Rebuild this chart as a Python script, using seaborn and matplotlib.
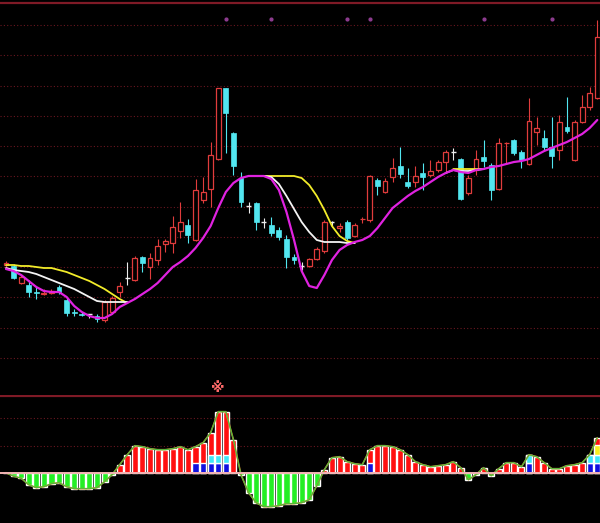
import numpy as np
import matplotlib
matplotlib.use('Agg')
import matplotlib.pyplot as plt
import seaborn as sns

nan = np.nan

# K线数据 (价格单位为估算值)
opens = [13.5, 13.4, 11.7, 11.5, 10.8, 10.6, 10.7, 11.3, 10.0, 8.8,
         8.6, 8.6, 8.4, 8.0, 8.8, 10.8, 12.2, 12.0, 14.3, 13.3,
         14.0, 15.6, 15.7, 16.9, 17.5, 16.0, 20.0, 21.1, 24.1, 31.2,
         26.7, 22.2, 19.4, 19.7, 17.8, 17.5, 17.0, 16.1, 14.3, 13.4,
         13.4, 14.1, 14.9, 17.8, 17.2, 17.8, 16.4, 18.1, 18.0, 22.0,
         20.8, 22.3, 23.4, 21.8, 21.8, 22.7, 22.5, 23.0, 23.8, 24.8,
         24.1, 20.7, 23.0, 24.3, 23.5, 21.1, 25.7, 26.0, 24.8, 23.6,
         26.8, 26.2, 25.3, 25.0, 27.3, 24.0, 27.8, 29.3, 30.2]
closes = [13.7, 12.2, 12.3, 10.8, 10.7, 10.7, 10.9, 10.8, 8.7, 8.7,
          8.5, 8.6, 8.1, 9.8, 10.2, 11.4, 12.2, 14.2, 13.7, 14.2,
          15.4, 15.9, 17.3, 17.8, 16.5, 21.0, 20.8, 24.5, 31.2, 28.7,
          23.4, 19.8, 19.4, 17.8, 17.8, 16.7, 16.3, 14.3, 14.0, 13.4,
          14.1, 15.1, 17.8, 17.8, 17.4, 16.2, 17.5, 18.15, 22.4, 21.4,
          21.9, 23.2, 22.6, 21.4, 22.4, 22.3, 22.9, 23.8, 24.8, 24.8,
          20.1, 22.2, 24.1, 23.9, 21.0, 25.7, 25.75, 24.7, 24.0, 27.9,
          27.2, 25.3, 24.4, 27.8, 26.9, 27.8, 29.3, 30.7, 36.3]
highs = [13.9, 13.6, 12.5, 12.0, 11.3, 11.1, 11.1, 11.5, 10.2, 9.1,
         8.8, 8.6, 8.6, 10.0, 10.4, 11.8, 13.8, 14.4, 14.4, 14.7,
         16.1, 16.1, 18.4, 19.8, 18.1, 22.1, 22.3, 25.8, 31.2, 31.2,
         26.8, 22.8, 19.8, 19.8, 18.2, 18.3, 17.3, 16.5, 14.6, 13.8,
         14.2, 15.3, 18.0, 17.9, 17.7, 18.0, 17.7, 18.3, 22.5, 22.2,
         22.2, 24.2, 25.3, 23.2, 23.4, 23.7, 24.0, 24.0, 25.0, 25.2,
         24.2, 22.5, 25.0, 26.0, 23.7, 26.2, 25.8, 26.1, 25.0, 30.2,
         28.3, 27.0, 28.3, 28.5, 30.3, 28.0, 30.5, 31.3, 38.0]
lows = [13.3, 12.1, 11.6, 10.3, 10.1, 10.5, 10.6, 10.6, 8.4, 8.4,
        8.4, 8.2, 7.8, 7.8, 8.7, 10.3, 11.5, 11.9, 12.8, 12.1,
        13.5, 14.8, 14.7, 16.2, 15.7, 15.9, 19.7, 19.3, 24.0, 24.7,
        22.5, 19.3, 18.7, 17.0, 17.2, 16.4, 16.0, 13.2, 13.6, 13.0,
        13.3, 14.0, 14.7, 17.3, 16.8, 16.0, 16.3, 17.7, 17.8, 20.5,
        20.7, 21.8, 22.2, 21.2, 21.3, 21.0, 22.3, 22.8, 22.8, 24.0,
        20.0, 20.5, 22.5, 23.3, 20.0, 21.0, 23.7, 24.5, 23.2, 23.5,
        25.5, 25.0, 23.2, 24.0, 26.7, 23.9, 27.7, 29.0, 30.1]

# 均线
ma_fast = [13.1, 12.9, 12.5, 11.9, 11.3, 10.9, 10.8, 10.8, 10.3, 9.4,
           8.8, 8.4, 8.2, 8.2, 8.6, 9.3, 9.7, 10.1, 10.6, 11.1,
           11.7, 12.5, 13.3, 13.8, 14.4, 15.2, 16.2, 17.4, 19.2, 20.8,
           21.7, 22.2, 22.4, 22.4, 22.4, 22.1, 21.0, 18.8, 16.0, 12.9,
           11.4, 11.2, 12.5, 14.0, 15.0, 15.5, 15.8, 16.0, 16.4, 17.2,
           18.2, 19.2, 19.8, 20.4, 20.9, 21.3, 21.8, 22.3, 22.7, 23.0,
           22.8, 22.7, 23.0, 23.1, 23.3, 23.4, 23.6, 23.8, 23.9, 24.1,
           24.5, 24.9, 25.2, 25.5, 25.8, 26.2, 26.6, 27.2, 28.0]
ma_mid = ([13.2, 13.0, 12.9, 12.8, 12.6, 12.3, 12.0, 11.7, 11.4, 11.1,
           10.7, 10.3, 9.9, 9.8, 9.8, 9.8, 9.8] + [nan] * 17 +
          [22.4, 22.3, 21.6, 20.4, 19.1, 17.8, 16.8, 16.0, 15.8, 15.8,
           15.8, 15.7, 15.7] + [nan] * 11 +
          [22.7, 23.0, 22.9, 22.9, 23.0, 23.1] + [nan] * 15)
ma_slow = ([13.5, 13.5, 13.4, 13.4, 13.3, 13.2, 13.2, 13.0, 12.8, 12.5,
            12.2, 11.9, 11.5, 11.1, 10.6, 10.1, 9.7] + [nan] * 16 +
           [22.4, 22.4, 22.4, 22.4, 22.4, 22.4, 22.2, 21.5, 20.4, 19.0,
            17.4, 16.4, 15.9, 15.7] + [nan] * 12 +
           [23.1, 23.1, 23.1, 23.1, 23.1] + [nan] * 15)
dot_idx = [29, 35, 45, 48, 63, 72]

# 副图指标
hist = [0.0, -0.35, -0.55, -1.2, -1.5, -1.4, -1.1, -1.0, -1.4, -1.6,
        -1.6, -1.6, -1.5, -0.9, -0.2, 0.8, 1.8, 2.7, 2.6, 2.4,
        2.3, 2.3, 2.4, 2.6, 2.3, 2.6, 3.0, 4.0, 6.1, 6.1,
        3.3, -0.2, -2.0, -3.0, -3.4, -3.4, -3.3, -3.1, -3.1, -3.0,
        -2.7, -1.3, 0.3, 1.5, 1.6, 1.1, 0.9, 0.8, 2.3, 2.7,
        2.7, 2.6, 2.3, 1.8, 1.1, 0.8, 0.6, 0.7, 0.8, 1.1,
        0.5, -0.7, -0.2, 0.5, -0.3, 0.4, 1.0, 1.0, 0.6, 1.8,
        1.6, 1.0, 0.4, 0.4, 0.7, 0.8, 1.0, 1.8, 3.5]
blue_idx = [25, 26, 27, 28, 29, 48, 69, 77, 78]
cyan_idx = [27, 28, 29, 69, 77, 78]
yellow_idx = [78]
blue_top, cyan_top, yellow_top = 1.0, 1.8, 2.8

sns.set_theme(style='dark', rc={'axes.facecolor': 'black', 'figure.facecolor': 'black'})
plt.rcParams['font.family'] = ['DejaVu Sans', 'Noto Sans CJK SC']

RED = '#e03c3c'
CYAN = '#52e6f0'
WHITE = '#ececec'
GRID = '#6a1620'
BORDER = '#7f1a26'

n = len(opens)
x = np.arange(n)
o = np.array(opens); c = np.array(closes); h = np.array(highs); l = np.array(lows)
up = c > o
dn = c < o
flat = c == o

fig = plt.figure(figsize=(6, 5.23), dpi=100)
ax = fig.add_axes([0, 128 / 523, 1, 395 / 523])
ax2 = fig.add_axes([0, 0, 1, 128 / 523])
for a in (ax, ax2):
    a.set_facecolor('black')
    a.set_xlim(-0.79, 78.36)
    a.set_xticks([]); a.set_yticks([])
    for s in a.spines.values():
        s.set_visible(False)
ax.set_ylim(0.5, 40.0)
ax2.set_ylim(-5.03, 7.77)

# 网格线
for k in range(12):
    ax.axhline(37.5 - 3.027 * k, color=GRID, lw=0.8, ls=(0, (1, 2)), zorder=0)
ax.axhline(39.7, color=BORDER, lw=1.6, zorder=1)

# 影线
wick_col = np.where(up, RED, np.where(dn, CYAN, WHITE))
ax.vlines(x, l, h, colors=list(wick_col), lw=0.8, zorder=2)
# 实体
bw = 0.64
ax.bar(x[up], (c - o)[up], bottom=o[up], width=bw, facecolor='black',
       edgecolor=RED, linewidth=0.9, zorder=3)
ax.bar(x[dn], (o - c)[dn], bottom=c[dn], width=bw, color=CYAN,
       edgecolor=CYAN, linewidth=0.5, zorder=3)
ax.hlines(c[flat], x[flat] - bw / 2, x[flat] + bw / 2, colors=WHITE, lw=1.0, zorder=3)

# 均线
ax.plot(x, ma_slow, color='#f2ec2a', lw=1.3, zorder=4)
ax.plot(x, ma_mid, color='#f4f4f4', lw=1.3, zorder=5)
sns.lineplot(x=x, y=ma_fast, color='#e022e0', lw=1.6, ax=ax, zorder=6)
ax.scatter(dot_idx, [38.1] * len(dot_idx), s=4, color='#8e3c90', zorder=6)
ax.text(28, 1.2, '※', color='#ff6a6a', fontsize=10, fontweight='bold',
        ha='center', va='center')
ax.set_xlabel(''); ax.set_ylabel('')

# 副图
ax2.axhline(7.72, color=BORDER, lw=1.6, zorder=1)
for lv in (5.47, 2.67):
    ax2.axhline(lv, color=GRID, lw=0.8, ls=(0, (1, 2)), zorder=0)
hv = np.array(hist)
bar_col = np.where(hv >= 0, '#ff1010', '#24ee24')
ax2.bar(x, hv, width=0.8, color=list(bar_col), zorder=2)
ax2.bar(blue_idx, blue_top, width=0.8, color='#1010e0', zorder=3)
ax2.bar(cyan_idx, cyan_top - blue_top, bottom=blue_top, width=0.8, color='#40e8f8', zorder=3)
ax2.bar(yellow_idx, yellow_top - cyan_top, bottom=cyan_top, width=0.8, color='#f8f020', zorder=3)
ax2.plot(x, hv, color='#d08a30', lw=1.2, zorder=4)
sns.lineplot(x=x, y=hv, color='#3cc040', lw=0.7, ax=ax2, zorder=5)
ax2.axhline(0, color='#f2b4b4', lw=1.4, zorder=6)
ax2.set_xlabel(''); ax2.set_ylabel('')

fig.savefig('out.png', dpi=100, facecolor='black')
